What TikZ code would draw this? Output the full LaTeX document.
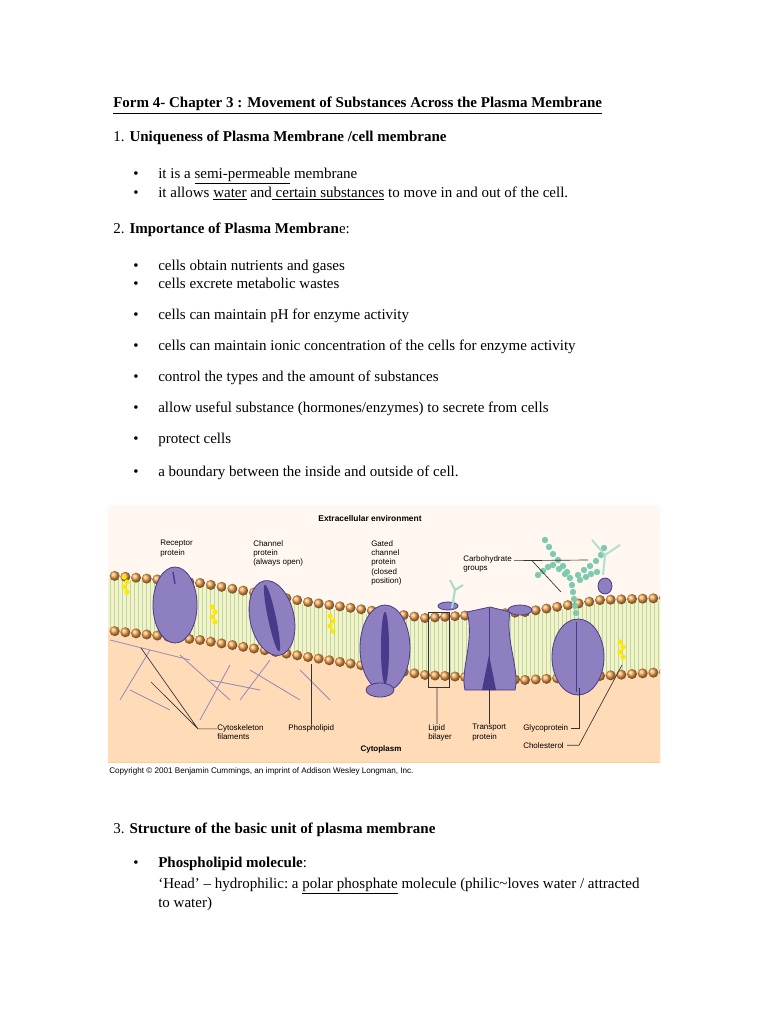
\documentclass[tikz,border=0pt]{standalone}
\usepackage{fontspec}
\setmainfont{Liberation Serif}
\setsansfont{Liberation Sans}
\usetikzlibrary{calc,shapes.geometric}
\definecolor{prot}{HTML}{8E7FC0}
\definecolor{protd}{HTML}{4A3A8A}
\definecolor{head}{HTML}{F0A048}
\definecolor{band}{HTML}{F5F2C4}
\definecolor{carb}{HTML}{7FC9B0}
\tikzset{
 txt/.style={anchor=base west,inner sep=0,font=\fontsize{11.25}{13}\selectfont},
 bul/.style={anchor=base west,inner sep=0,font=\fontsize{11.25}{13}\selectfont},
 lab/.style={inner sep=0,font=\sffamily\fontsize{6}{7}\selectfont,align=left,anchor=north west},
 lead/.style={draw=black!80,line width=0.5pt},
 pro/.style={fill=prot,draw=protd,line width=0.6pt}
}
\newcommand\headrow[1]{\foreach \xa/\ya/\xb/\yb in {#1}{%
 \pgfmathsetmacro\nn{int((\xb-\xa)/10)}%
 \foreach \k in {1,...,\nn}{\shade[ball color=head] ($(\xa,\ya)!{\k/\nn}!(\xb,\yb)$) circle (5);}}}
\begin{document}
\begin{tikzpicture}[x=0.75pt,y=-0.75pt]
\useasboundingbox (0,0) rectangle (768,1024);
\fill[white] (0,0) rectangle (768,1024);
% ---- text
\node[txt] (t0) at (113,108) {\textbf{\underline{Form 4- Chapter 3 : Movement of Substances Across the Plasma Membrane}}};
\node[txt] (t1) at (113,142) {1. \textbf{Uniqueness of Plasma Membrane /cell membrane}};
\foreach \y/\s [count=\i] in {178/{it is a \underline{semi-permeable} membrane},197/{it allows \underline{water} and\underline{ certain substances} to move in and out of the cell.},
 270/{cells obtain nutrients and gases},288/{cells excrete metabolic wastes},319/{cells can maintain pH for enzyme activity},
 350/{cells can maintain ionic concentration of the cells for enzyme activity},381/{control the types and the amount of substances},
 412/{allow useful substance (hormones/enzymes) to secrete from cells},443/{protect cells},476/{a boundary between the inside and outside of cell.}}
 {\node[bul] (b\i) at (133,\y) {\textbullet}; \node[txt] (s\i) at (158,\y) {\s};}
\node[txt] (t2) at (113,233) {2. \textbf{Importance of Plasma Membran}e:};
\node[txt] (t3) at (113,833) {3. \textbf{Structure of the basic unit of plasma membrane}};
\node[bul] (b11) at (133,867) {\textbullet};
\node[txt] (s11) at (158,867) {\textbf{Phospholipid molecule}:};
\node[txt] (s12) at (158,888) {`Head' -- hydrophilic:\ a \underline{polar phosphate} molecule (philic\textasciitilde loves water / attracted};
\node[txt] (s13) at (158,907) {to water)};
% ---- diagram
\begin{scope}
\clip (108,505) rectangle (660,762);
\shade[top color=white!40!orange!15, bottom color=orange!40!white] (108,505) rectangle (660,762);
\fill[band] plot[smooth] coordinates {(104,575)(200,583)(308,602)(425,618)(525,612)(600,600)(664,598)}
 -- plot[smooth] coordinates {(664,672)(600,676)(525,680)(425,675)(308,657)(200,640)(104,630)} -- cycle;
\foreach \x in {110,114,...,660}{\draw[green!50!black!30,line width=0.3pt] (\x,575) -- (\x,680);}
\fill[white!60!orange!15] plot[smooth] coordinates {(104,578)(200,586)(308,605)(425,621)(525,615)(600,603)(664,601)} -- (664,505) -- (104,505) -- cycle;
\fill[orange!28!white] plot[smooth] coordinates {(104,627)(200,637)(308,654)(425,672)(525,677)(600,673)(664,669)} -- (664,762) -- (104,762) -- cycle;
\headrow{104/575/200/583,200/583/308/602,308/602/425/618,425/618/525/612,525/612/600/600,600/600/664/598}
\headrow{104/630/200/640,200/640/308/657,308/657/425/675,425/675/525/680,525/680/600/676,600/676/664/672}
% cytoskeleton
\foreach \a/\b/\c/\d in {110/640/190/660,150/650/120/700,180/655/230/700,230/665/200/720,250/670/300/700,270/660/240/700,300/670/330/700,210/680/260/690,130/690/170/710}
 {\draw[protd!60,line width=0.6pt] (\a,\b) -- (\c,\d);}
% cholesterol
\foreach \x/\y in {124/577,212/607,330/616,561/640,620/642}{\foreach \k in {0,1,2,3}{\fill[yellow!90!orange] ({\x+mod(\k,2)*3},{\y+\k*5}) circle (2.6);}}
% receptor
\draw[pro] (175,605) ellipse (22 and 38);
\draw[protd,line width=1pt] (173,572) -- (175,584);
% channel
\draw[pro,rotate around={12:(272,618)}] (272,618) ellipse (22 and 38);
\fill[protd,rotate around={12:(272,618)}] (272,618) ellipse (4 and 34);
% gated
\draw[pro] (385,648) ellipse (25 and 43);
\fill[protd] (385,648) ellipse (4 and 36);
\draw[pro] (380,690) ellipse (14 and 7);
% transport
\draw[pro] (467,612) -- (490,607) -- (510,612) .. controls (505,640) and (520,670) .. (515,690) -- (465,690) .. controls (460,670) and (475,640) .. (467,612) -- cycle;
\draw[protd] (489,608) -- (489,690);
\fill[protd] (482,690) -- (489,655) -- (496,690) -- cycle;
% glycoprotein
\draw[pro] (578,657) ellipse (26 and 38);
\draw[protd] (576,622) -- (576,692);
% small proteins
\draw[pro] (520,610) ellipse (12 and 5);
\draw[pro] (448,606) ellipse (10 and 4);
\draw[pro] (605,586) ellipse (7 and 8);
% carbohydrates
\begin{scope}[xshift=-25*0.75pt]
\foreach \x/\y in {570/540,574/547,578/554,583/560,588/566,592/572,595/578,597/585,598/592,599/599,600/606,601/613,578/565,584/569,590/574,603/575,609/570,615/566,621/561,626/555,629/548,563/575,568/571,573/567,605/580,611/577,616/574,622/572}
 {\fill[carb] (\x,\y) circle (3.2);}
\end{scope}
\draw[carb!60,line width=1.5pt] (592,540) -- (605,555) -- (620,545) (605,555) -- (603,575);
\draw[carb!70,line width=1.5pt] (452,608) -- (455,590) -- (450,580) (455,590) -- (463,585);
% lipid bilayer box
\draw[black!80,line width=0.5pt] (428,612) rectangle (449,687);
\end{scope}
% labels
\node[lab,anchor=north,font=\sffamily\bfseries\fontsize{6.3}{7}\selectfont] (ee) at (370,515) {Extracellular environment};
\node[lab] (rp) at (160,540) {Receptor\\protein};
\node[lab] (cp) at (253,540) {Channel\\protein\\(always open)};
\node[lab] (gc) at (371,540) {Gated\\channel\\protein\\(closed\\position)};
\node[lab] (cg) at (463,555) {Carbohydrate\\groups};
\node[lab] (cf) at (217,724) {Cytoskeleton\\filaments};
\node[lab] (ph) at (288,724) {Phospholipid};
\node[lab] (lb) at (428,724) {Lipid\\bilayer};
\node[lab] (tp) at (472,724) {Transport\\protein};
\node[lab] (gp) at (523,724) {Glycoprotein};
\node[lab] (ch) at (523,742) {Cholesterol};
\node[lab,anchor=north,font=\sffamily\bfseries\fontsize{6}{7}\selectfont] (cy) at (381,745) {Cytoplasm};
\node[lab,font=\sffamily\fontsize{6.1}{7}\selectfont] (cr) at (109,767) {Copyright \textcopyright\ 2001 Benjamin Cummings, an imprint of Addison Wesley Longman, Inc.};
% leaders
\coordinate (c1) at (141,648); \coordinate (c2) at (151,682);
\draw[lead] (cf.west) ++(0,-3) -- ++(-19,0) coordinate (cj) -- (c1) (cj) -- (c2);
\draw[lead] (ph.north) -- ++(0,-60);
\draw[lead] (lb.north) ++(-3,0) -- (437,687);
\draw[lead] (tp.north) -- ++(0,-35);
\draw[lead] (gp.east) ++(3,0) -- ++(8,0) -- ++(0,-40);
\draw[lead] (ch.east) ++(3,0) -- ++(12,0) -- (622,665);
\coordinate (cgA) at (588,560); \coordinate (cgB) at (561,592);
\draw[lead] (cg.east) ++(2,-3) coordinate (cg1) -- (cgA) (cg1) ++(18,0) -- (cgB);
\end{tikzpicture}
\end{document}
